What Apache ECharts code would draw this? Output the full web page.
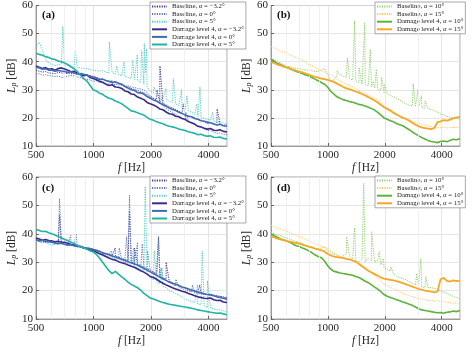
<!DOCTYPE html>
<html><head><meta charset="utf-8">
<script src="https://cdn.jsdelivr.net/npm/echarts@6/dist/echarts.min.js"></script>
<style>html,body{margin:0;padding:0;background:#fff}#c{width:474px;height:357px}</style>
</head><body><div id="c"></div>
<script>
// ---------------- data ----------------
const FREQ = [500,520,540,561,583,605,629,654,679,706,
733,762,791,822,854,888,922,958,996,1034,
1075,1117,1160,1205,1252,1301,1352,1405,1460,1516,
1576,1637,1701,1767,1836,1908,1982,2059,2140,2223,
2310,2400,2493,2591,2692,2797,2906,3019,3137,3259,
3386,3518,3656,3798,3946,4100,4260,4426,4599,4778,5000];
const XTICKS = [500,1000,2000,4000];
const MINOR_F = [600,700,800,900,3000];
const YTICKS = [10,20,30,40,50,60];

const NAMES_AC = ['Baseline, α = −3.2°','Baseline, α = 0°','Baseline, α = 5°','Damage level 4, α = −3.2°','Damage level 4, α = 0°','Damage level 4, α = 5°'];
const NAMES_BD = ['Baseline, α = 10°','Baseline, α = 15°','Damage level 4, α = 10°','Damage level 4, α = 15°'];

// panel (a)
const A_BASE_M32 = [37.0,36.6,36.3,36.5,36.0,35.9,35.7,36.2,36.0,35.9,
35.8,35.7,35.8,35.6,35.4,35.4,35.3,35.0,34.8,34.5,
34.0,33.8,33.3,33.0,32.8,32.5,32.4,32.0,31.4,31.0,
30.5,30.1,29.8,29.3,29.0,28.2,27.5,27.0,26.5,25.8,
25.2,24.6,24.0,23.6,23.0,22.4,21.7,21.0,20.8,20.4,
20.0,19.5,19.2,18.7,18.0,18.3,17.9,17.5,17.8,17.4,17.5];
const A_BASE_0 = [35.5,35.8,35.2,35.4,35.0,35.0,34.7,34.9,34.4,34.5,
34.8,35.1,35.0,34.6,34.3,34.0,33.8,33.5,33.0,33.2,
32.7,32.5,32.2,32.0,32.3,31.8,31.9,31.5,31.2,31.4,
31.0,30.8,30.5,30.3,30.0,29.0,28.0,27.0,26.0,25.2,
24.3,23.4,22.5,22.0,21.3,20.5,19.8,19.0,18.7,18.2,
17.6,17.0,16.7,16.0,15.5,15.6,15.0,14.5,14.7,14.2,14.0];
const A_BASE_5 = [45.0,47.0,44.0,41.0,39.5,39.0,38.6,38.9,39.2,38.5,
38.7,38.2,38.0,37.8,37.9,37.5,37.6,37.2,37.0,36.8,
36.6,36.9,36.3,36.0,36.2,35.6,35.4,35.0,34.8,34.5,
34.0,33.6,33.3,32.7,32.0,31.0,29.5,29.0,28.2,27.6,
27.2,26.6,26.0,25.5,25.0,24.4,23.8,23.0,22.6,22.0,
21.2,20.5,20.3,19.8,19.5,19.3,18.9,18.5,18.7,18.2,18.0];
const A_DMG_M32 = [38.5,38.0,37.6,37.9,37.3,37.5,37.0,37.6,37.8,37.4,
37.0,36.4,36.6,35.9,35.4,35.0,35.3,34.4,34.0,33.6,
33.0,32.7,32.0,31.5,31.8,31.0,30.9,30.5,29.6,29.3,
28.5,28.3,27.4,27.0,26.5,25.5,25.0,24.6,24.0,23.2,
22.9,22.1,21.5,21.3,20.6,20.4,19.8,19.5,18.7,18.3,
17.8,17.0,16.8,16.3,16.0,16.2,15.6,15.5,15.8,15.2,15.0];
const A_DMG_0 = [38.0,37.8,37.3,37.5,37.0,37.0,36.6,36.9,36.7,36.5,
36.2,36.4,36.0,35.6,35.8,35.5,35.2,34.8,34.5,34.2,
33.6,33.8,33.3,33.0,32.6,32.9,32.3,32.0,31.2,30.6,
30.0,29.8,29.0,28.9,28.5,27.6,27.0,26.4,26.0,25.3,
24.7,24.2,23.5,23.0,22.6,22.0,21.6,21.0,20.6,20.4,
19.8,19.5,19.0,18.8,18.5,18.3,17.8,17.5,17.7,17.2,17.0];
const A_DMG_5 = [43.0,42.6,42.3,41.8,41.5,41.0,40.8,40.2,40.0,39.5,
39.0,38.2,37.5,36.6,35.2,34.0,33.2,31.6,30.0,29.6,
28.8,28.4,27.6,27.0,26.7,26.0,25.6,25.0,24.2,23.4,
22.5,22.3,21.8,21.4,21.0,20.2,19.5,19.2,18.6,18.3,
17.9,17.4,17.0,16.8,16.5,16.0,15.8,15.5,15.1,14.8,
14.5,14.0,14.2,13.7,13.5,13.6,13.1,13.0,13.2,12.7,12.5];
const A_PEAKS_M32 = [[2150,30],[2228,38.5],[2950,25],[4440,23.2]];
const A_PEAKS_0 = [[1250,33.5],[2300,27.5],[3050,22]];
const A_PEAKS_5 = [[691,52.5],[803,44],[1210,47],[1323,38.5],[1445,40],[1605,40.5],[1697,42.5],[1786,44],[1845,46.5],[1870,36],[1896,44.5],[2072,31],[2398,30.5],[2620,34],[2888,30],[3086,28],[3478,25],[3612,31],[4200,22]];

// panel (b)
const B_BASE_10 = [41.5,40.6,40.0,39.6,39.0,38.5,38.2,38.0,37.6,37.5,
37.3,37.0,37.0,36.8,36.6,36.5,37.0,37.6,35.5,33.0,
33.5,35.0,35.5,34.8,34.5,34.0,33.5,33.0,32.5,32.0,
31.8,31.5,31.0,30.5,30.2,29.8,29.0,28.6,28.0,27.5,
27.0,26.3,25.6,25.0,24.5,24.2,24.0,24.0,23.8,23.5,
23.3,23.0,22.6,22.0,21.4,21.0,20.6,20.2,20.0,19.8,19.5];
const B_BASE_15 = [45.5,44.8,44.3,43.8,43.4,43.0,42.4,42.0,41.5,41.0,
40.6,39.8,39.0,38.6,38.0,37.2,36.8,36.3,35.8,35.3,
34.8,34.0,33.2,32.6,32.0,31.6,31.0,30.5,29.8,29.2,
28.8,28.3,27.6,27.0,26.5,25.2,24.3,23.5,22.8,22.0,
21.4,20.8,20.2,19.8,19.3,18.8,18.4,18.0,17.7,17.4,
17.1,16.9,16.6,16.5,16.5,16.7,16.4,16.6,16.5,16.6,16.5];
const B_DMG_10 = [41.0,40.2,39.4,39.0,38.4,38.0,37.5,37.0,36.5,36.2,
35.8,35.3,35.0,34.4,33.8,33.2,32.6,32.0,31.0,29.5,
28.5,27.5,27.0,26.5,26.2,25.8,25.6,25.2,24.8,24.6,
24.2,23.8,23.3,22.8,22.0,21.0,20.0,19.5,19.0,18.6,
18.0,17.6,17.2,16.5,15.8,15.0,14.3,13.6,13.0,12.5,
12.0,11.6,11.4,11.2,11.6,11.8,11.5,12.0,12.4,12.2,12.6];
const B_DMG_15 = [40.0,39.5,39.0,38.7,38.2,38.0,37.6,37.2,36.8,36.5,
36.2,35.8,35.4,35.0,34.6,34.3,34.0,33.8,33.5,33.2,
32.8,32.2,31.6,31.0,30.5,30.2,29.8,29.4,29.0,28.5,
28.0,27.4,26.8,26.2,25.5,24.6,23.8,23.2,22.6,21.8,
21.2,20.6,20.0,19.6,19.0,18.3,17.6,17.0,16.6,16.4,
16.2,16.0,16.4,18.5,18.8,19.2,19.0,19.4,19.8,20.1,20.4];
const B_PEAKS_10 = [[1119,36.8],[1268,41.5],[1330,34],[1385,54.6],[1460,38],[1567,53.8],[1676,44.4],[1740,33],[1804,37.3],[1860,30],[1923,34.4],[1985,32],[2828,32.2],[2996,30.2],[3130,27.9],[3270,26]];

// panel (c)
const C_BASE_M32 = [38.0,37.6,37.3,37.5,37.0,37.1,36.8,36.6,36.9,36.5,
36.3,36.0,35.8,35.9,35.5,35.3,35.0,34.8,34.6,34.3,
34.0,33.4,33.0,32.8,32.4,32.0,31.8,31.4,31.0,30.6,
30.2,29.8,29.3,28.8,28.3,27.8,27.2,26.6,26.0,25.3,
24.6,24.0,23.3,22.8,22.3,21.8,21.3,20.8,20.4,20.0,
19.6,19.3,19.0,18.8,18.6,18.8,18.4,18.2,18.0,17.8,17.5];
const C_BASE_0 = [37.5,37.3,36.9,37.2,36.8,37.0,36.6,36.4,36.7,36.2,
36.0,36.2,35.7,35.5,35.6,35.0,34.8,34.9,34.5,34.2,
33.8,33.5,33.0,32.7,32.2,32.0,31.5,31.0,30.7,30.2,
29.8,29.2,28.7,28.2,27.7,27.2,26.7,26.0,25.4,24.8,
24.0,23.4,22.8,22.2,21.6,21.2,20.7,20.2,19.8,19.5,
19.2,19.0,18.8,18.6,18.5,18.6,18.2,18.0,17.9,17.6,17.5];
const C_BASE_5 = [37.5,37.2,36.8,37.0,36.4,36.0,36.3,36.8,36.5,36.5,
36.3,36.0,36.0,35.6,35.3,35.0,34.8,34.4,34.0,33.6,
33.2,32.8,32.4,32.0,31.7,31.4,31.0,30.5,30.0,29.6,
29.2,28.6,28.0,27.5,27.0,25.8,24.5,23.8,23.0,22.3,
21.6,21.0,20.0,19.5,19.0,18.4,17.8,17.0,16.6,16.2,
15.8,15.3,15.0,14.6,14.0,13.8,13.5,13.2,13.3,12.9,12.5];
const C_DMG_M32 = [38.5,38.2,37.7,38.0,37.6,37.5,37.2,37.4,37.0,37.0,
36.7,36.2,36.0,35.8,35.4,35.0,34.8,34.3,34.0,33.6,
33.0,32.5,32.0,31.5,31.0,30.8,30.2,29.8,29.5,29.0,
28.6,28.2,27.6,27.0,26.5,25.8,25.0,24.6,24.0,23.2,
22.6,22.0,21.5,21.0,20.6,20.2,19.8,19.5,19.0,18.6,
18.2,17.8,17.6,17.3,17.2,17.4,16.8,16.5,16.6,16.0,15.8];
const C_DMG_0 = [38.0,37.5,37.8,37.2,37.4,37.0,36.8,36.5,36.7,36.3,
36.0,36.2,35.8,35.5,35.6,35.2,35.0,34.8,34.5,34.2,
33.8,33.2,33.0,32.6,32.2,31.8,31.5,31.0,30.6,30.2,
29.8,29.4,29.0,28.4,27.8,27.2,26.6,26.0,25.4,24.8,
24.2,23.6,23.0,22.6,22.2,21.8,21.3,21.0,20.6,20.2,
19.9,19.5,19.2,18.9,18.6,18.5,18.2,17.8,17.6,17.3,17.0];
const C_DMG_5 = [41.5,41.2,40.8,40.9,40.4,40.0,39.6,39.0,38.6,38.0,
37.6,37.0,36.6,36.0,35.5,35.0,34.6,34.0,33.6,32.8,
31.5,30.0,28.5,27.0,26.0,26.8,25.8,24.8,24.0,23.0,
22.2,21.6,21.0,20.2,19.0,18.2,17.4,17.0,16.6,16.2,
15.8,15.5,15.2,15.0,14.8,14.6,14.4,14.2,14.0,13.8,
13.5,13.2,13.0,12.8,12.6,12.4,12.2,12.0,12.1,11.8,11.5];
const C_PEAKS_M32 = [[664,46.5],[1299,35],[1543,48],[1640,35],[2190,39],[2400,30],[3600,22]];
const C_PEAKS_0 = [[664,52.4],[760,39.5],[810,40],[1240,34],[1365,35],[1490,39],[1543,53.6],[1620,32],[1700,37],[1800,36.5],[1920,34],[2190,38.5],[2280,28],[2700,24],[3300,22]];
const C_PEAKS_5 = [[1620,35],[1866,56.7],[2080,34],[2250,28],[3500,22],[3710,34],[3950,23.5]];

// panel (d)
const D_BASE_10 = [40.5,40.0,39.6,39.3,38.8,38.5,38.2,37.6,37.3,37.0,
36.6,36.0,35.5,35.2,34.8,34.5,35.0,35.5,34.0,33.5,
32.8,32.5,32.0,32.2,33.0,32.2,31.0,30.5,30.0,31.0,
30.0,31.5,30.5,30.0,30.5,29.0,28.0,27.5,26.8,26.0,
25.0,24.6,24.2,23.8,23.2,22.6,22.0,21.6,21.3,21.0,
21.0,21.0,20.8,20.5,19.8,19.5,19.0,18.5,18.0,17.6,17.2];
const D_BASE_15 = [43.0,42.5,42.0,41.6,41.2,41.0,40.5,40.0,39.5,39.0,
38.5,38.0,37.6,37.0,36.5,36.0,35.6,35.2,34.8,34.0,
33.2,32.6,32.0,31.6,31.2,30.8,30.4,30.0,29.5,29.0,
28.0,27.0,26.2,25.3,24.4,23.4,22.2,21.8,21.2,20.6,
20.2,19.6,19.0,18.6,18.3,17.8,17.6,17.2,17.0,16.8,
16.5,16.6,16.3,16.5,16.0,16.2,15.8,15.9,15.5,15.7,15.5];
const D_DMG_10 = [40.0,39.3,38.8,38.2,37.8,37.5,37.0,36.4,35.8,35.5,
35.0,34.6,34.0,33.4,32.6,32.0,31.6,30.5,28.8,27.6,
26.8,26.5,26.2,26.0,25.8,25.6,25.4,25.0,24.6,24.0,
23.3,22.8,22.0,21.2,20.5,19.6,18.6,18.0,17.6,17.2,
16.8,16.4,16.0,15.6,15.2,14.8,14.2,13.6,13.2,13.0,
12.8,12.6,12.4,12.2,12.3,12.0,12.4,12.5,12.8,12.6,13.0];
const D_DMG_15 = [39.0,38.7,38.3,38.0,37.8,37.5,37.2,37.0,36.8,36.5,
36.2,35.8,35.5,35.2,34.8,34.5,34.2,33.8,33.0,32.4,
32.0,31.8,31.6,31.5,31.2,31.0,30.6,30.2,29.4,28.6,
27.8,27.0,26.4,25.8,25.2,24.6,24.2,24.0,23.8,23.6,
23.3,23.0,22.6,22.2,21.8,21.4,21.0,20.6,20.3,20.0,
19.8,19.6,19.4,19.6,24.0,24.5,23.4,23.2,23.6,23.3,23.5];
const D_PEAKS_10 = [[1256,38.9],[1385,42.1],[1547,57.7],[1704,40.7],[1867,33.7],[1969,31.3],[2155,28.4],[2950,26],[3106,31.3],[3300,25]];

// ---------------- styling & layout ----------------
const FONT = 'Liberation Serif';
const TXT = '#262626';
const STYLE_AC = [
  {color:'#3e3593', dot:true,  w:1},
  {color:'#5f78b8', dot:true,  w:1},
  {color:'#52cccc', dot:true,  w:1},
  {color:'#3b2a8e', dot:false, w:1.6},
  {color:'#3f6bb0', dot:false, w:1.6},
  {color:'#22b3a6', dot:false, w:1.6}
];
const STYLE_BD = [
  {color:'#8fd06c', dot:true,  w:1},
  {color:'#ffc75e', dot:true,  w:1},
  {color:'#5cb33a', dot:false, w:1.6},
  {color:'#f8a722', dot:false, w:1.8}
];
const PANELS = [
  {label:'(a)', names:NAMES_AC, styles:STYLE_AC, vals:[A_BASE_M32,A_BASE_0,A_BASE_5,A_DMG_M32,A_DMG_0,A_DMG_5], peaks:[A_PEAKS_M32,A_PEAKS_0,A_PEAKS_5,[],[],[]],
   grid:{left:36,top:4,width:191,height:142}, legend:{left:150,top:2}, yGap:13},
  {label:'(b)', names:NAMES_BD, styles:STYLE_BD, vals:[B_BASE_10,B_BASE_15,B_DMG_10,B_DMG_15], peaks:[B_PEAKS_10,[],[],[]],
   grid:{left:271,top:4,width:189,height:142}, legend:{left:375,top:2}, yGap:18},
  {label:'(c)', names:NAMES_AC, styles:STYLE_AC, vals:[C_BASE_M32,C_BASE_0,C_BASE_5,C_DMG_M32,C_DMG_0,C_DMG_5], peaks:[C_PEAKS_M32,C_PEAKS_0,C_PEAKS_5,[],[],[]],
   grid:{left:36,top:177,width:191,height:142}, legend:{left:150,top:176}, yGap:13},
  {label:'(d)', names:NAMES_BD, styles:STYLE_BD, vals:[D_BASE_10,D_BASE_15,D_DMG_10,D_DMG_15], peaks:[D_PEAKS_10,[],[],[]],
   grid:{left:271,top:177,width:189,height:142}, legend:{left:375,top:176}, yGap:18}
];

const toU = f => Math.log2(f / XTICKS[0]);
const UMAX = toU(5000);

function buildData(vals, peaks) {
  const pts = FREQ.map((f, i) => [toU(f), vals[i]]);
  peaks.forEach(p => pts.push([toU(p[0]), p[1]]));
  pts.sort((a, b) => a[0] - b[0]);
  return pts;
}

const grid = [], xAxis = [], yAxis = [], series = [], legend = [], graphic = [];
PANELS.forEach((p, gi) => {
  grid.push(Object.assign({show:true, borderColor:'#8a8a8a', borderWidth:0.8, backgroundColor:'#fff', containLabel:false}, p.grid));
  xAxis.push({
    type:'value', gridIndex:gi, min:0, max:UMAX, interval:1,
    axisLine:{show:true, lineStyle:{color:'#8a8a8a', width:0.8}},
    axisTick:{show:true, inside:true, length:3, lineStyle:{color:'#666'}},
    splitLine:{show:true, lineStyle:{color:'#e0e0e0', width:0.8}},
    axisLabel:{color:TXT, fontFamily:FONT, fontSize:11, margin:4, showMaxLabel:false,
      formatter: v => { const k = Math.round(v); return Math.abs(v - k) < 1e-6 && XTICKS[k] ? String(XTICKS[k]) : ''; }},
    name:'{i|f} [Hz]', nameLocation:'middle', nameGap:14,
    nameTextStyle:{color:TXT, fontFamily:FONT, fontSize:11.5, rich:{i:{fontStyle:'italic', fontFamily:FONT, fontSize:11.5, color:TXT}}}
  });
  yAxis.push({
    type:'value', gridIndex:gi, min:YTICKS[0], max:YTICKS[YTICKS.length-1], interval:10,
    axisLine:{show:true, lineStyle:{color:'#8a8a8a', width:0.8}},
    axisTick:{show:true, inside:true, length:3, lineStyle:{color:'#666'}},
    splitLine:{show:true, lineStyle:{color:'#e0e0e0', width:0.8}},
    axisLabel:{color:TXT, fontFamily:FONT, fontSize:11, margin:3},
    name:'{i|L}{s|p} [dB]', nameLocation:'middle', nameGap:p.yGap, nameRotate:90,
    nameTextStyle:{color:TXT, fontFamily:FONT, fontSize:11.5,
      rich:{i:{fontStyle:'italic', fontFamily:FONT, fontSize:11.5, color:TXT},
            s:{fontStyle:'italic', fontFamily:FONT, fontSize:8, color:TXT, verticalAlign:'bottom'}}}
  });
  // minor grid lines (log minor ticks)
  series.push({
    type:'line', xAxisIndex:gi, yAxisIndex:gi, data:[], silent:true, z:1,
    markLine:{silent:true, symbol:['none','none'], label:{show:false}, animation:false,
      lineStyle:{color:'#ececec', type:'solid', width:0.8},
      data: MINOR_F.map(f => ({xAxis: toU(f)}))}
  });
  p.names.forEach((nm, si) => {
    const st = p.styles[si];
    series.push({
      type:'line', name:nm, xAxisIndex:gi, yAxisIndex:gi, z:2+si,
      data: buildData(p.vals[si], p.peaks[si]),
      symbol:'none', showSymbol:false, animation:false, clip:true,
      lineStyle:{color:st.color, width:st.w, type: st.dot ? [1.2,1.2] : 'solid'},
      itemStyle:{color:st.color}
    });
  });
  legend.push({
    left:p.legend.left, top:p.legend.top, orient:'vertical', data:p.names,
    itemWidth:15, itemHeight:6.5, itemGap:0.6, padding:[1,2,1,1],
    backgroundColor:'#fff', borderColor:'#6f6f6f', borderWidth:0.6,
    itemStyle:{color:'rgba(0,0,0,0)', borderWidth:0, opacity:0},
    selectedMode:false, textStyle:{fontFamily:FONT, fontSize:6.8, color:'#222'}
  });
  graphic.push({
    type:'text', left:p.grid.left + 6, top:p.grid.top + 6, z:100,
    style:{text:p.label, font:'bold 11px "Liberation Serif"', fill:'#111'}
  });
});

const chart = echarts.init(document.getElementById('c'), null, {renderer:'canvas'});
chart.setOption({animation:false, backgroundColor:'#fff', grid, xAxis, yAxis, series, legend, graphic});
</script>
</body></html>
